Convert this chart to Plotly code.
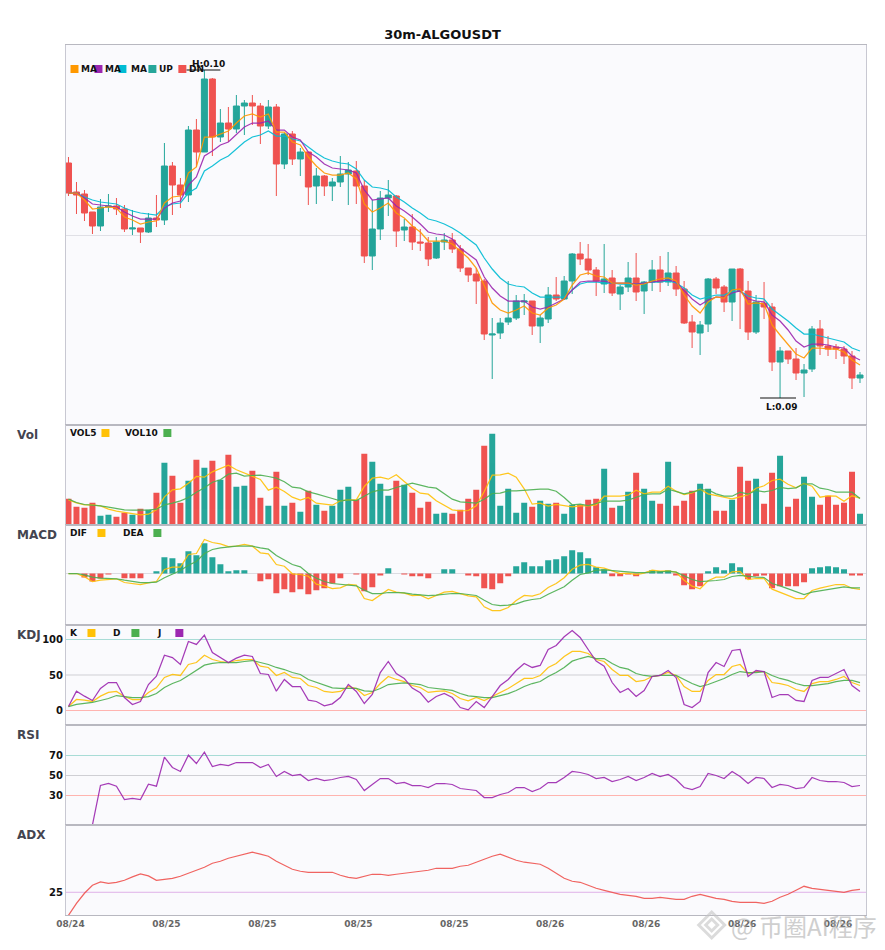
import plotly.graph_objects as go
from plotly.subplots import make_subplots

WIDTH, HEIGHT = 885, 950
LEFT, RIGHT, TOP, BOTTOM = 65.5, 866.5, 45, 915

GREEN = '#26a69a'
RED = '#ef5350'
ORANGE = '#ff9800'
PURPLE = '#9c27b0'
CYAN = '#00bcd4'
YELLOW = '#ffc107'
LIME = '#4caf50'
FONT = 'DejaVu Sans'

title_text = '30m-ALGOUSDT'
tick_index = [0, 12, 24, 36, 48, 60, 72, 84, 96]
tick_labels = ['08/24', '08/25', '08/25', '08/25', '08/25', '08/26', '08/26', '08/26', '08/26']

# prices in 1e-5 USDT
opens = [9637, 9608, 9606, 9588, 9574, 9593, 9594, 9591, 9571, 9572, 9568, 9582, 9580, 9634, 9615, 9605, 9670, 9648, 9721, 9663,
         9677, 9671, 9694, 9697, 9694, 9674, 9693, 9636, 9666, 9641, 9648, 9614, 9624, 9614, 9618, 9626, 9629, 9614, 9544, 9571,
         9602, 9604, 9570, 9573, 9558, 9557, 9542, 9558, 9560, 9551, 9532, 9526, 9519, 9465, 9467, 9478, 9482, 9498, 9499, 9474,
         9481, 9505, 9501, 9519, 9546, 9541, 9530, 9516, 9522, 9506, 9513, 9522, 9509, 9518, 9530, 9518, 9527, 9511, 9478, 9467,
         9476, 9521, 9513, 9498, 9531, 9509, 9468, 9497, 9493, 9438, 9449, 9441, 9427, 9431, 9471, 9454, 9453, 9451, 9444, 9422]
closes = [9607, 9605, 9587, 9574, 9593, 9594, 9591, 9571, 9572, 9568, 9582, 9580, 9634, 9615, 9605, 9670, 9648, 9721, 9663, 9677,
          9671, 9694, 9697, 9694, 9674, 9693, 9636, 9666, 9641, 9648, 9613, 9624, 9614, 9618, 9626, 9630, 9614, 9544, 9571, 9602,
          9605, 9569, 9573, 9558, 9557, 9541, 9558, 9560, 9551, 9532, 9525, 9519, 9466, 9466, 9477, 9482, 9499, 9499, 9474, 9482,
          9505, 9501, 9519, 9546, 9541, 9530, 9519, 9521, 9507, 9513, 9522, 9508, 9518, 9530, 9518, 9527, 9511, 9477, 9468, 9475,
          9521, 9512, 9498, 9531, 9509, 9468, 9498, 9493, 9438, 9449, 9441, 9427, 9430, 9471, 9454, 9451, 9451, 9444, 9422, 9425]
highs = [9643, 9618, 9610, 9588, 9601, 9606, 9602, 9595, 9590, 9572, 9587, 9605, 9657, 9638, 9622, 9674, 9681, 9730, 9722, 9691,
         9693, 9705, 9700, 9705, 9697, 9700, 9696, 9667, 9669, 9652, 9648, 9632, 9625, 9622, 9644, 9638, 9639, 9620, 9600, 9609,
         9620, 9605, 9581, 9586, 9571, 9563, 9563, 9567, 9567, 9555, 9532, 9532, 9521, 9482, 9482, 9519, 9505, 9506, 9499, 9485,
         9513, 9523, 9524, 9547, 9558, 9556, 9533, 9556, 9530, 9515, 9538, 9547, 9519, 9540, 9544, 9548, 9534, 9519, 9485, 9479,
         9522, 9523, 9515, 9531, 9532, 9519, 9505, 9518, 9497, 9453, 9449, 9452, 9436, 9474, 9480, 9464, 9456, 9454, 9449, 9428]
lows = [9604, 9586, 9579, 9566, 9569, 9588, 9585, 9568, 9565, 9557, 9567, 9573, 9575, 9585, 9592, 9598, 9633, 9648, 9644, 9658,
        9658, 9667, 9665, 9675, 9656, 9671, 9604, 9631, 9635, 9624, 9595, 9596, 9604, 9599, 9613, 9595, 9596, 9537, 9530, 9560,
        9584, 9553, 9559, 9550, 9549, 9534, 9541, 9550, 9547, 9528, 9518, 9496, 9460, 9421, 9461, 9475, 9480, 9485, 9465, 9457,
        9477, 9499, 9500, 9506, 9535, 9525, 9504, 9507, 9504, 9490, 9508, 9499, 9486, 9509, 9508, 9514, 9504, 9476, 9452, 9445,
        9468, 9506, 9488, 9479, 9471, 9460, 9466, 9481, 9429, 9402, 9436, 9420, 9403, 9428, 9445, 9444, 9441, 9436, 9411, 9417]
ma5 = [9607, 9607, 9600, 9591, 9592, 9593, 9592, 9583, 9580, 9576, 9578, 9579, 9597, 9603, 9604, 9627, 9633, 9663, 9663, 9666,
       9669, 9677, 9684, 9686, 9683, 9686, 9668, 9668, 9658, 9655, 9643, 9634, 9627, 9625, 9625, 9627, 9621, 9596, 9588, 9592,
       9597, 9587, 9582, 9574, 9568, 9559, 9559, 9559, 9556, 9549, 9542, 9532, 9514, 9497, 9490, 9487, 9490, 9494, 9487, 9485,
       9492, 9495, 9501, 9515, 9525, 9527, 9524, 9523, 9517, 9517, 9517, 9515, 9516, 9519, 9521, 9522, 9519, 9505, 9494, 9487,
       9498, 9503, 9502, 9510, 9511, 9496, 9497, 9496, 9475, 9465, 9456, 9446, 9442, 9452, 9452, 9451, 9451, 9448, 9440, 9435]
ma10 = [9607, 9607, 9602, 9596, 9595, 9594, 9593, 9588, 9584, 9581, 9581, 9581, 9592, 9597, 9599, 9615, 9623, 9644, 9649, 9655,
        9658, 9666, 9673, 9677, 9677, 9679, 9670, 9670, 9663, 9660, 9648, 9643, 9636, 9632, 9631, 9630, 9627, 9610, 9600, 9601,
        9602, 9594, 9589, 9583, 9576, 9568, 9566, 9565, 9561, 9552, 9546, 9540, 9523, 9512, 9504, 9499, 9499, 9499, 9493, 9491,
        9493, 9497, 9501, 9510, 9518, 9519, 9519, 9519, 9517, 9517, 9517, 9516, 9517, 9518, 9519, 9520, 9518, 9510, 9501, 9495,
        9500, 9503, 9503, 9507, 9509, 9501, 9499, 9498, 9485, 9479, 9470, 9459, 9453, 9456, 9456, 9455, 9453, 9452, 9444, 9440]
ma20 = [9607, 9607, 9603, 9600, 9598, 9597, 9596, 9592, 9589, 9587, 9586, 9585, 9593, 9596, 9597, 9607, 9612, 9629, 9634, 9640,
        9644, 9651, 9658, 9663, 9665, 9669, 9664, 9664, 9661, 9659, 9653, 9647, 9642, 9639, 9637, 9636, 9631, 9620, 9613, 9612,
        9610, 9603, 9598, 9592, 9587, 9581, 9579, 9576, 9572, 9567, 9561, 9555, 9542, 9531, 9522, 9516, 9514, 9513, 9507, 9503,
        9503, 9503, 9503, 9510, 9516, 9518, 9518, 9517, 9517, 9516, 9516, 9516, 9517, 9518, 9518, 9519, 9517, 9512, 9505, 9501,
        9503, 9505, 9505, 9509, 9509, 9504, 9502, 9501, 9491, 9485, 9479, 9472, 9466, 9466, 9464, 9462, 9460, 9458, 9452, 9449]

volume = [25.7, 17.7, 16.7, 21.7, 8.7, 9.7, 7.7, 11.7, 9.7, 15.7, 14.7, 31.7, 61.7, 48.7, 21.7, 43.7, 64.7, 56.7, 63.7, 44.7,
          69.7, 37.7, 38.7, 53.7, 26.7, 18.7, 52.7, 18.7, 21.7, 12.7, 33.7, 19.7, 13.7, 18.7, 34.7, 37.7, 24.7, 70.7, 62.7, 40.7,
          28.7, 43.7, 39.7, 31.7, 16.7, 22.7, 10.7, 11.7, 10.7, 14.7, 25.7, 34.7, 78.7, 90.7, 18.7, 35.7, 11.7, 21.7, 17.7, 23.7,
          20.7, 21.7, 10.7, 19.7, 19.7, 24.7, 25.7, 55.7, 16.7, 18.7, 32.7, 51.7, 35.7, 23.7, 20.7, 62.7, 18.7, 23.7, 33.7, 40.7,
          35.7, 13.7, 13.7, 24.7, 57.7, 43.7, 45.7, 20.7, 51.7, 68.7, 17.7, 25.7, 47.7, 27.7, 19.7, 28.7, 19.7, 21.7, 52.7, 10.7]
vol5 = [24.7, 21.7, 19.7, 19.7, 18.7, 15.3, 13.3, 12, 10.7, 9.7, 10.3, 14.7, 27.7, 34.7, 35.7, 41.3, 48, 47.3, 52.7, 56,
        59.3, 54.7, 51.3, 48.7, 45, 34.3, 37.3, 33, 27.3, 24.3, 27, 21.3, 20.3, 19.3, 23.7, 24.7, 24.7, 38, 46.3, 47.3,
        45.3, 49.7, 43, 36.3, 31.3, 30.3, 23.7, 19, 14.7, 13.7, 14, 18.7, 33, 49.3, 49.7, 51.3, 47.3, 35.7, 20.3, 21.3,
        18.3, 20, 18.7, 17.7, 18.7, 18.7, 19.7, 28.3, 28.3, 28.3, 29.3, 34.3, 30.7, 32.3, 32.3, 38.3, 33.3, 30, 31.7, 35.3,
        30.7, 29, 27.7, 25.7, 27.7, 29.7, 36.3, 38.7, 44, 45.3, 40.3, 36.7, 41, 38.3, 27.3, 28.7, 28.3, 23.3, 28.7, 26.3]
vol10 = [25.3, 22, 20, 19.7, 18.7, 17.3, 15.7, 14.7, 14.3, 14.3, 14.3, 15.3, 19.7, 21.3, 23.7, 27, 32.3, 36.7, 42.3, 44.7,
         50.3, 51.3, 48.3, 49, 49.3, 48, 46.3, 42.7, 37.3, 36.3, 32.7, 30.7, 28.7, 26, 23.7, 24.7, 24, 28, 32.7, 34.7,
         34.3, 37, 39.3, 41.3, 39.3, 37.3, 36.3, 30.7, 25.3, 22.7, 22, 21.3, 25.3, 31, 31.3, 33.7, 33.7, 34.3, 34.7, 35.3,
         35.3, 33.3, 27, 19.7, 20.3, 19, 21, 23.3, 23.3, 23.3, 24.3, 27.3, 30, 30.7, 30.7, 35.3, 32.7, 30.7, 32.3, 34.7,
         34.7, 30.7, 28.3, 28.3, 32.3, 30.3, 34, 32.7, 34, 37, 36, 36.7, 40.7, 40.7, 36.3, 35, 32.3, 32.3, 32.3, 26]

macd_hist = [0, 0, -4, -8, -5, -1, 0, -4.7, -4.7, -4.7, 0, 2.3, 16.3, 15.3, 10.3, 22.3, 18.3, 30.3, 16.3, 9.3,
             2.3, 3.3, 3.3, 0, -7.7, -5.7, -19.7, -15.7, -18.7, -15.7, -20.7, -16.7, -14.7, -10, -4.7, 0, -1, -17.7, -13.7, -1.7,
             5.3, 0, -0.7, -2.7, -2.7, -4.7, 0, 4.3, 4.3, 0, -1.7, -2.7, -14.7, -15.7, -9.7, -2.7, 7.3, 11.3, 7.3, 7.3,
             13.3, 14.3, 17.3, 23.3, 21.3, 15.3, 6.3, 4.3, -2.7, -2.7, -0.7, -2.7, 0, 3.3, 2.3, 3.3, -1.7, -11.7, -15.7, -12.7,
             2.3, 6.3, 3.3, 10.3, 6.3, -5.7, -2.7, -1.7, -14.7, -12.7, -12.7, -12.7, -8.7, 5.3, 6.3, 7.3, 6.3, 4.3, -1.7, -1.7]
dif = [0, 0, -3.3, -8, -6.7, -6, -5.3, -9, -10, -11, -9.3, -8, 4, 6.3, 6.3, 19, 20, 34, 31, 29.7,
       27, 27.3, 29, 27.3, 20.7, 19.7, 9, 7.3, -0.3, -1, -2.7, -10.7, -12.3, -15, -14.3, -11, -11.7, -25, -27, -21.3,
       -16, -18.7, -19.7, -22, -21.7, -25.3, -22, -18.7, -18, -20.3, -22.3, -23.3, -33.3, -37, -37, -34, -27, -22, -22.7, -20.3,
       -14, -10, -4.3, 4.3, 8.3, 9, 6.3, 5.3, 2.3, 0, 0.3, -1, 0.3, 3.3, 2.3, 2.7, 1.3, -6.7, -12.7, -15.3,
       -7.3, -3.7, -3.7, 1.7, 2, -6, -5, -5, -15.7, -18.7, -21.3, -25, -25, -17, -14.7, -12.7, -11, -11, -14.7, -16]
dea = [0, 0, -1.3, -3.7, -4.7, -5.3, -5.3, -6.7, -8, -9, -9, -8.7, -4.3, -0.7, 3, 8.3, 12, 20, 24, 25.7,
       26.7, 27.3, 27.3, 27.3, 25.7, 24.3, 18, 13.3, 9, 6.7, 0, -4.7, -8, -10, -10.7, -11, -12.3, -16.7, -20, -20,
       -19, -19, -19.3, -20.7, -21.3, -22, -21.7, -20.7, -20, -20, -20.7, -22, -26.7, -31, -32, -31.7, -30.3, -27.7, -26, -25,
       -20.7, -17.3, -13.3, -6.7, -1, 0.7, 3.3, 3.7, 3, 2.3, 2, 1, 1, 1.3, 1.7, 2, 1.3, -2.3, -6, -8,
       -7.7, -7, -6, -3, -2, -3, -3.7, -4, -10, -12.3, -15, -18, -21, -18.7, -17.3, -16, -15, -13.3, -14.3, -14.3]

k_line = [5.6, 15.5, 14.6, 12.7, 20.2, 25.4, 26.8, 19.7, 15.5, 15.5, 25.4, 31.9, 46.5, 50.7, 49.3, 64.8, 67.6, 77.9, 71.8, 69,
          67.6, 70.4, 71.8, 71.8, 62.4, 60.6, 49.3, 53.5, 46.5, 45.1, 35.2, 32.4, 26.8, 25.4, 26.8, 33.8, 31, 21.1, 25.4, 38,
          47.9, 43.7, 40.8, 35.2, 32.4, 25.4, 26.8, 27.7, 23.9, 16.9, 13.6, 18.3, 14.1, 19.7, 25.4, 31, 38, 45.1, 45.1, 49.3,
          60.6, 66.2, 76.1, 83.1, 83.1, 80.3, 71.8, 69, 57.7, 49.3, 49.3, 40.8, 42.3, 47.9, 49.3, 53.5, 49.3, 33.8, 26.8, 26.8,
          42.3, 50.7, 50.7, 62, 64.8, 52.1, 54.9, 54.9, 39.4, 38, 35.2, 29.6, 26.8, 38, 40.8, 40.8, 43.7, 47.9, 39.4, 35.2]
d_line = [5.6, 8.5, 9.9, 11.3, 14.1, 16.9, 21.1, 19.7, 18.3, 18.3, 19.7, 23.9, 32.4, 38, 42.3, 49.3, 56.3, 63.8, 66.2, 67.6,
          67.6, 67.6, 69, 70.4, 67.6, 64.8, 60.6, 57.7, 53.5, 50.7, 43.7, 39.4, 35.2, 31.9, 31, 31, 31, 27.7, 26.8, 31,
          36.6, 38, 39, 38, 36.6, 32.4, 31, 29.6, 28.2, 23.9, 20.7, 19.7, 18.3, 18.3, 21.1, 23.9, 28.2, 33.8, 38, 40.8,
          47.9, 53.5, 60.6, 69.5, 73.2, 76.1, 73.2, 73.2, 66.2, 60.6, 58.2, 52.1, 49.3, 47.9, 49.3, 49.3, 49.3, 43.7, 38, 33.8,
          36.6, 40.8, 45.1, 50.7, 54.9, 53.5, 53.5, 54.9, 49.3, 45.1, 42.3, 38, 35.2, 35.2, 36.6, 38, 40.8, 42.3, 42.3, 39.4]
j_line = [5.6, 27.2, 20.2, 14.1, 31, 39.4, 39.4, 18.3, 8.5, 12.7, 36.6, 48.4, 77.9, 74.6, 64.8, 97.2, 93, 106.1, 81.7, 74.6,
          67.6, 73.7, 77.9, 76.1, 52.1, 50.7, 27.2, 43.7, 33.8, 33.8, 14.6, 12.7, 6.6, 9.4, 18.3, 36.6, 26.8, 9.9, 22.5, 53.5,
          69, 52.1, 45.1, 31.5, 24.9, 11.7, 19.7, 23.9, 18.3, 4.2, 0.9, 12.7, 4.2, 19.7, 35.2, 43.7, 56.3, 66.2, 60.6, 63.4,
          85.9, 91.5, 103.8, 112.7, 102.8, 85.9, 69.5, 62.4, 39.4, 25.4, 31, 19.7, 28.2, 47.9, 49.3, 56.3, 46.5, 8.5, 4.2, 12.7,
          53.5, 67.6, 62, 84.5, 85.9, 47.9, 56.3, 54.9, 18.3, 22.5, 22.5, 14.1, 12.7, 42.3, 46.5, 46.5, 52.1, 57.7, 35.2, 26.8]

rsi = [0, 0, 0, 0.7, 40, 42, 39.3, 26, 27, 26, 41.3, 39.3, 68.3, 58, 54, 70.3, 62, 73.3, 59, 61,
       60, 63, 63, 63, 58, 61, 49, 54, 50, 51, 45, 47, 45, 46, 48, 49, 46, 35, 41, 47,
       47, 42, 43, 40, 40, 38, 42, 42, 41, 37, 36, 35, 28, 28, 31, 33, 38, 38, 34, 37,
       43, 43, 48, 54, 53, 51, 47, 48, 44, 46, 49, 45, 48, 52, 49, 51, 46, 38, 36, 39,
       52, 50, 47, 54, 49, 42, 48, 47, 38, 41, 40, 37, 38, 48, 45, 44, 44, 43, 39, 40]
adx = [13.5, 19.5, 24.5, 28.5, 30.2, 29.5, 30, 31, 32.7, 34.2, 33.2, 31, 31.5, 32, 33, 34.5, 36, 37.5, 39.5, 40.5,
       42, 43, 44, 45, 44, 43, 40.5, 38.5, 36.5, 35.5, 35, 35, 35, 35, 33.5, 32.5, 32, 33, 34, 34,
       33.5, 34, 34.5, 35, 35.5, 36, 37, 37, 37, 38, 38.5, 40, 41.5, 43, 44, 42.5, 41, 40, 39.5, 39,
       37, 34.5, 32, 30.5, 30, 28.5, 27, 26, 25, 24, 23.5, 23, 22, 22, 22.5, 22, 21.5, 21.5, 23, 24,
       23, 22, 21.5, 20.5, 20, 20, 20, 19.5, 20.5, 22.5, 24, 26, 28, 27, 26.5, 26, 25.5, 25, 26, 26.5]

xs = list(range(len(opens)))
bar_colors = [GREEN if c >= o else RED for o, c in zip(opens, closes)]
hist_colors = [GREEN if v >= 0 else RED for v in macd_hist]


def px(x):
    return (x - LEFT) / (RIGHT - LEFT)


def py(y):
    return (BOTTOM - y) / (BOTTOM - TOP)


def add_line(fig, row, values, color, width=1.25):
    fig.add_trace(go.Scatter(x=xs, y=values, mode='lines', line=dict(color=color, width=width), opacity=0.9,
                             showlegend=False, hoverinfo='skip'), row=row, col=1)


fig = make_subplots(rows=6, cols=1, shared_xaxes=True, vertical_spacing=0,
                    row_heights=[379.5, 100, 100, 100, 100, 90.5])

# price panel
fig.add_trace(go.Candlestick(x=xs, open=opens, high=highs, low=lows, close=closes, showlegend=False,
                             whiskerwidth=0, hoverinfo='skip',
                             increasing=dict(line=dict(color=GREEN, width=1), fillcolor=GREEN),
                             decreasing=dict(line=dict(color=RED, width=1), fillcolor=RED)), row=1, col=1)
add_line(fig, 1, ma20, CYAN)
add_line(fig, 1, ma10, PURPLE)
add_line(fig, 1, ma5, ORANGE)

# indicator panels
fig.add_trace(go.Bar(x=xs, y=volume, marker=dict(color=bar_colors, line=dict(width=0)), width=0.75,
                     showlegend=False, hoverinfo='skip'), row=2, col=1)
add_line(fig, 2, vol5, YELLOW)
add_line(fig, 2, vol10, LIME)

fig.add_trace(go.Bar(x=xs, y=macd_hist, marker=dict(color=hist_colors, line=dict(width=0)), width=0.75,
                     showlegend=False, hoverinfo='skip'), row=3, col=1)
add_line(fig, 3, dif, YELLOW)
add_line(fig, 3, dea, LIME)

add_line(fig, 4, k_line, YELLOW)
add_line(fig, 4, d_line, LIME)
add_line(fig, 4, j_line, PURPLE)

add_line(fig, 5, rsi, PURPLE)
add_line(fig, 6, adx, RED)

# guide lines
guides = [(1, 9564.5, '#e0e0e6'), (3, 0, '#dcdce2'),
          (4, 100, '#a8dcd6'), (4, 50, '#cfcfd4'), (4, 0, '#ffb4b0'),
          (5, 70, '#a8dcd6'), (5, 50, '#cfcfd4'), (5, 30, '#ffb4b0'),
          (6, 25, '#dfb2e8')]
for row, value, color in guides:
    fig.add_hline(y=value, line=dict(color=color, width=1), layer='below', row=row, col=1)

# high / low markers
hi_i = highs.index(max(highs))
lo_i = lows.index(min(lows))
fig.add_shape(type='line', x0=hi_i - 2.25, x1=hi_i + 2, y0=max(highs), y1=max(highs),
              line=dict(color='#111111', width=1.2), row=1, col=1)
fig.add_shape(type='line', x0=lo_i - 2.5, x1=lo_i + 2, y0=min(lows), y1=min(lows),
              line=dict(color='#111111', width=1.2), row=1, col=1)
fig.add_annotation(x=hi_i + 0.5, y=max(highs), yshift=6, text=f'H:{max(highs) / 1e5:.2f}', showarrow=False,
                   font=dict(family=FONT, size=9, color='#111111', weight='bold'), row=1, col=1)
fig.add_annotation(x=lo_i + 0.25, y=min(lows), yshift=-9, text=f'L:{min(lows) / 1e5:.2f}', showarrow=False,
                   font=dict(family=FONT, size=9, color='#111111', weight='bold'), row=1, col=1)

# panel captions
for label, y in [('Vol', 435), ('MACD', 535), ('KDJ', 635), ('RSI', 735), ('ADX', 835)]:
    fig.add_annotation(xref='paper', yref='paper', x=px(14), y=py(y), text=label, xanchor='left', yanchor='middle',
                       showarrow=False, font=dict(family=FONT, size=12, color='#444450', weight='bold'))

# hand placed legends
legends = [
    (69, [('MA', 79, 70, ORANGE), ('MA', 103, 94, PURPLE), ('MA', 129, 118, CYAN), ('UP', 157, 148, GREEN), ('DN', 187, 178, RED)]),
    (433, [('VOL5', 68, 101, YELLOW), ('VOL10', 123, 163, LIME)]),
    (533, [('DIF', 68, 97, YELLOW), ('DEA', 121, 153, LIME)]),
    (633, [('K', 68, 87, YELLOW), ('D', 111, 131, LIME), ('J', 155, 175, PURPLE)]),
]
for y, items in legends:
    for text, tx, sx, color in items:
        fig.add_shape(type='rect', xref='paper', yref='paper', x0=px(sx), x1=px(sx + 8), y0=py(y - 4), y1=py(y + 4),
                      fillcolor=color, line=dict(width=0))
        fig.add_annotation(xref='paper', yref='paper', x=px(tx), y=py(y), text=text, xanchor='left', yanchor='middle',
                           showarrow=False, font=dict(family=FONT, size=9, color='#111111', weight='bold'))

# watermark
for r in (13, 6):
    fig.add_shape(type='path', xref='paper', yref='paper', opacity=0.6, line=dict(color='#c4c4c4', width=3),
                  path=f'M {px(712 - r)},{py(925)} L {px(712)},{py(925 - r)} L {px(712 + r)},{py(925)} L {px(712)},{py(925 + r)} Z')
fig.add_annotation(xref='paper', yref='paper', x=px(880), y=py(925), text='@ 币圈AI程序', xanchor='right', yanchor='middle',
                   showarrow=False, opacity=0.55,
                   font=dict(family='Noto Sans CJK SC', size=24, color='#a8a8a8'))

fig.update_xaxes(range=[-0.31, 99.75], showgrid=False, zeroline=False, showline=True, linecolor='#b8b8c0', linewidth=1,
                 mirror=True, ticks='', rangeslider_visible=False)
fig.update_xaxes(tickmode='array', tickvals=tick_index, ticktext=tick_labels, ticklabelshift=2,
                 tickfont=dict(family=FONT, size=9, color='#666666', weight='bold'), row=6, col=1)
fig.update_yaxes(showgrid=False, zeroline=False, showline=True, linecolor='#c8c8d2', linewidth=1, mirror=True, ticks='',
                 showticklabels=False)
fig.update_yaxes(range=[9375.5, 9755], row=1, col=1)
fig.update_yaxes(range=[0, 100], row=2, col=1)
fig.update_yaxes(range=[-51, 49], row=3, col=1)
tick_font = dict(family=FONT, size=10, color='#111111', weight='bold')
fig.update_yaxes(range=[-19.7, 121.1], showticklabels=True, tickmode='array', tickvals=[0, 50, 100], tickfont=tick_font, row=4, col=1)
fig.update_yaxes(range=[1, 101], showticklabels=True, tickmode='array', tickvals=[30, 50, 70], tickfont=tick_font, row=5, col=1)
fig.update_yaxes(range=[13.65, 58.85], showticklabels=True, tickmode='array', tickvals=[25], tickfont=tick_font, row=6, col=1)

fig.update_layout(
    width=WIDTH, height=HEIGHT, autosize=False,
    margin=dict(l=LEFT, r=WIDTH - RIGHT, t=TOP, b=HEIGHT - BOTTOM, pad=0),
    paper_bgcolor='white', plot_bgcolor='#fafafd',
    boxgap=0.25, boxgroupgap=0, bargap=0.25,
    showlegend=False,
    title=dict(text=title_text, x=0.5, xanchor='center', y=1 - 34 / HEIGHT, yanchor='middle',
               font=dict(family=FONT, size=13, color='#111111', weight='bold')),
)

fig.write_html("out.html", config={'displayModeBar': False}, post_script="document.body.style.margin='0';")
